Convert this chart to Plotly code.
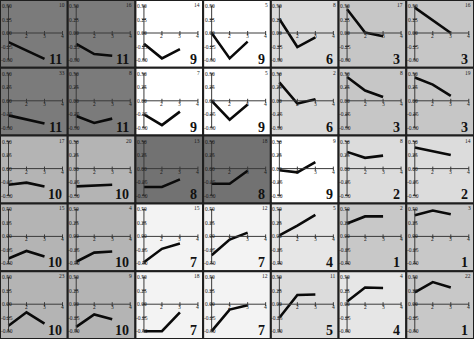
import plotly.graph_objects as go

W, H = 474, 339
NR, NC = 5, 7

# cluster number (big bold label) for every panel, row by row
clusters = [
    [11, 11, 9, 9, 6, 3, 3],
    [11, 11, 9, 9, 6, 3, 3],
    [10, 10, 8, 8, 9, 2, 2],
    [10, 10, 7, 7, 4, 1, 1],
    [10, 10, 7, 7, 5, 4, 1],
]
# small label in top-right corner of each panel
panel_ids = [
    [10, 16, 14, 5, 8, 17, 16],
    [33, 8, 7, 5, 2, 8, 19],
    [17, 20, 13, 18, 9, 8, 14],
    [15, 4, 15, 12, 5, 2, 3],
    [23, 9, 18, 12, 11, 4, 22],
]
x_vals = [1, 2, 3]
row0_values = [[-0.17, -0.33, -0.48], [-0.20, -0.39, -0.42], [-0.20, -0.47, -0.30],
               [0.00, -0.47, -0.16], [0.26, -0.26, -0.08], [0.44, 0.01, -0.06], [0.47, 0.23, 0.00]]
row1_values = [[-0.27, -0.35, -0.42], [-0.28, -0.41, -0.33], [-0.25, -0.45, -0.20],
               [0.00, -0.35, -0.07], [0.34, -0.05, 0.03], [0.44, 0.19, 0.07], [0.43, 0.30, 0.09]]
row2_values = [[-0.30, -0.26, -0.33], [-0.33, -0.31, -0.30], [-0.34, -0.34, -0.20],
               [-0.28, -0.28, -0.04], [-0.03, -0.07, 0.12], [0.31, 0.20, 0.24], [0.39, 0.32, 0.25]]
row3_values = [[-0.41, -0.27, -0.37], [-0.47, -0.30, -0.28], [-0.48, -0.23, -0.13],
               [-0.35, -0.06, 0.07], [0.02, 0.20, 0.40], [0.24, 0.37, 0.37], [0.39, 0.48, 0.41]]
row4_values = [[-0.40, -0.15, -0.36], [-0.42, -0.19, -0.28], [-0.50, -0.50, -0.15],
               [-0.50, -0.10, -0.02], [-0.25, 0.17, 0.18], [0.05, 0.31, 0.30], [0.22, 0.41, 0.31]]
values = [row0_values, row1_values, row2_values, row3_values, row4_values]

y_ticks = [0.5, 0.25, 0.0, -0.25, -0.5]
y_tick_labels = ["0.50", "0.25", "0.00", "-0.25", "-0.50"]
x_ticks = [2, 3, 4]
x_tick_labels = ["2", "3", "4"]

cluster_colors = {
    11: "#7b7b7b", 9: "#ffffff", 6: "#dadada", 3: "#c6c6c6", 10: "#b4b4b4",
    8: "#727272", 2: "#dcdcdc", 7: "#f3f3f3", 4: "#e6e6e6", 1: "#c8c8c8", 5: "#dcdcdc",
}

pw, ph = W / NC, H / NR
px_per_x = 18.0
px_per_y = 54.0
xr = [1 - 8.5 / px_per_x, 1 - 8.5 / px_per_x + pw / px_per_x]
yr = [-0.5 - (ph - 6 - 54) / px_per_y, 0.5 + 6 / px_per_y]

fig = go.Figure()
layout = dict(width=W, height=H, margin=dict(l=0, r=0, t=0, b=0), showlegend=False,
              paper_bgcolor="#1e1e1e", plot_bgcolor="rgba(0,0,0,0)")
shapes, annotations = [], []
tfont = dict(family="Liberation Serif", size=5.5, color="#1a1a1a")

k = 0
for r in range(NR):
    for c in range(NC):
        k += 1
        sx = "" if k == 1 else str(k)
        x0, x1 = c / NC, (c + 1) / NC
        y1, y0 = 1 - r / NR, 1 - (r + 1) / NR
        layout["xaxis" + sx] = dict(domain=[x0, x1], range=xr, visible=False, fixedrange=True,
                                    anchor="y" + sx)
        layout["yaxis" + sx] = dict(domain=[y0, y1], range=yr, visible=False, fixedrange=True,
                                    anchor="x" + sx)
        cl = clusters[r][c]
        shapes.append(dict(type="rect", xref="paper", yref="paper", x0=x0, x1=x1, y0=y0, y1=y1,
                           fillcolor=cluster_colors[cl], line=dict(color="#1e1e1e", width=2),
                           layer="below"))
        xa, ya = "x" + sx, "y" + sx
        ax_line = dict(color="#3a3a3a", width=1)
        shapes.append(dict(type="line", xref=xa, yref=ya, x0=1, x1=1, y0=-0.5, y1=0.5, line=ax_line))
        shapes.append(dict(type="line", xref=xa, yref=ya, x0=1, x1=4, y0=0, y1=0, line=ax_line))
        for yt in y_ticks:
            shapes.append(dict(type="line", xref=xa, yref=ya, x0=1 - 2 / px_per_x, x1=1 + 2 / px_per_x,
                               y0=yt, y1=yt, line=ax_line))
        for xt in x_ticks:
            shapes.append(dict(type="line", xref=xa, yref=ya, x0=xt, x1=xt, y0=-2 / px_per_y,
                               y1=2 / px_per_y, line=ax_line))
        for yt, lab in zip(y_ticks, y_tick_labels):
            annotations.append(dict(xref=xa, yref=ya, x=1, y=yt, text=lab, showarrow=False,
                                    xanchor="center", yanchor="middle", xshift=-2,
                                    font=tfont, borderpad=0))
        for xt, lab in zip(x_ticks, x_tick_labels):
            annotations.append(dict(xref=xa, yref=ya, x=xt, y=0, text=lab, showarrow=False,
                                    xanchor="center", yanchor="top", yshift=1,
                                    font=tfont, borderpad=0))
        annotations.append(dict(xref="paper", yref="paper", x=x1, y=y1, text=str(panel_ids[r][c]),
                                showarrow=False, xanchor="right", yanchor="top", xshift=-2, yshift=-1,
                                font=tfont, borderpad=0))
        annotations.append(dict(xref="paper", yref="paper", x=x1, y=y0, text="<b>%d</b>" % cl,
                                showarrow=False, xanchor="right", yanchor="bottom", xshift=-5, yshift=0,
                                font=dict(family="Liberation Serif", size=14, color="#111111"),
                                borderpad=0))
        fig.add_trace(go.Scatter(x=x_vals, y=values[r][c], mode="lines", xaxis=xa, yaxis=ya,
                                 line=dict(color="#0a0a0a", width=2.6), hoverinfo="skip"))

layout["shapes"] = shapes
layout["annotations"] = annotations
fig.update_layout(**layout)
fig.write_html("out.html")
